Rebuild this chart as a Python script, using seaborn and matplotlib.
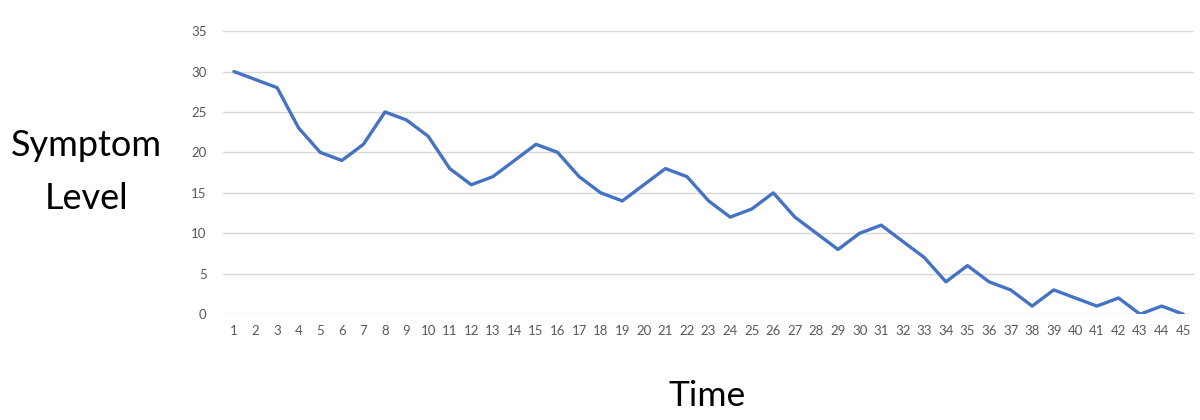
import pandas as pd
import matplotlib.pyplot as plt
import seaborn as sns

# 数据
time = list(range(1, 46))
symptom = [30, 29, 28, 23, 20, 19, 21, 25, 24, 22,
           18, 16, 17, 19, 21, 20, 17, 15, 14, 16,
           18, 17, 14, 12, 13, 15, 12, 10, 8, 10,
           11, 9, 7, 4, 6, 4, 3, 1, 3, 2,
           1, 2, 0, 1, 0]
y_ticks = [0, 5, 10, 15, 20, 25, 30, 35]

df = pd.DataFrame({'Time': time, 'Symptom': symptom})

sns.set_theme(style='white')
plt.rcParams['font.family'] = ['Lato', 'DejaVu Sans']

fig = plt.figure(figsize=(12, 4.2), dpi=100)
ax = fig.add_axes([0.186, 0.252, 0.809, 0.674])

sns.lineplot(data=df, x='Time', y='Symptom', ax=ax, color='#4472C4', linewidth=2.4)

ax.set_xlim(0.5, 45.5)
ax.set_ylim(0, 35)
ax.set_xticks(time)
ax.set_yticks(y_ticks)
ax.tick_params(axis='both', labelsize=9.5, colors='#595959', length=0)
ax.tick_params(axis='x', pad=8)
ax.tick_params(axis='y', pad=12)
ax.yaxis.grid(True, color='#D9D9D9', linewidth=1)
ax.set_axisbelow(True)
for s in ax.spines.values():
    s.set_visible(False)

ax.set_xlabel('')
ax.set_ylabel('')
fig.text(0.072, 0.59, 'Symptom\nLevel', ha='center', va='center',
         fontsize=26, color='black', linespacing=1.75)
fig.text(0.589, 0.058, 'Time', ha='center', va='center', fontsize=25.5, color='black')

fig.savefig('out.png', dpi=100)
